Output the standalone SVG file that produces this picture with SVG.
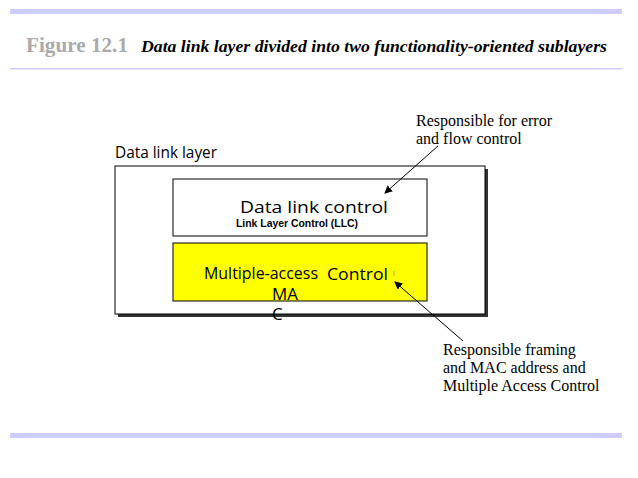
<svg xmlns="http://www.w3.org/2000/svg" width="638" height="478" viewBox="0 0 638 478">
<style>
.s{font-family:"Open Sans","DejaVu Sans",sans-serif;fill:#000}
.t{font-family:"Liberation Serif",serif;font-size:16px;fill:#000}
.c{stroke:#000;stroke-width:1;fill:none}
</style>
<defs><marker id="a" markerWidth="8" markerHeight="8" refX="7" refY="4" orient="auto" markerUnits="userSpaceOnUse"><path d="M0,0 L8,4 L0,8 z" fill="#000"/></marker></defs>
<rect width="638" height="478" fill="#fff"/>
<rect x="10" y="9" width="612" height="5" fill="#ccccff"/>
<rect x="10" y="68" width="612" height="1.5" fill="#ccccff"/>
<rect x="10" y="433" width="612" height="5" fill="#ccccff"/>
<text x="26" y="52" font-family="Liberation Serif,serif" font-size="20" font-weight="bold" fill="#aaaaaa" textLength="102" lengthAdjust="spacingAndGlyphs">Figure 12.1</text>
<text x="141" y="52" font-family="Liberation Serif,serif" font-size="17" font-weight="bold" font-style="italic" fill="#000" textLength="466" lengthAdjust="spacingAndGlyphs">Data link layer divided into two functionality-oriented sublayers</text>
<g id="outer">
<rect x="118" y="169" width="370" height="148" fill="#333"/>
<rect x="115" y="166" width="370" height="148" fill="#fff" stroke="#000"/>
<text x="115" y="158" class="s" font-size="16" textLength="102" lengthAdjust="spacingAndGlyphs">Data link layer</text>
</g>
<g id="llc">
<rect x="173" y="179" width="254" height="57" fill="#fff" stroke="#000"/>
<text x="240" y="213" class="s" font-size="16" textLength="148" lengthAdjust="spacingAndGlyphs">Data link control</text>
<text x="236" y="227" font-family="Liberation Sans,sans-serif" font-size="10" font-weight="bold" textLength="122" lengthAdjust="spacingAndGlyphs">Link Layer Control (LLC)</text>
</g>
<g id="mac">
<rect x="173" y="243" width="254" height="58" fill="#ffff00" stroke="#000"/>
<text x="204" y="279" class="s" font-size="16" textLength="114" lengthAdjust="spacingAndGlyphs">Multiple-access</text>
<text x="327" y="280" class="s" font-size="17" textLength="61" lengthAdjust="spacingAndGlyphs">Control</text>
<line x1="394" y1="271" x2="394" y2="276" stroke="#888" stroke-width="0.7"/>
<text x="272" y="300" class="s" font-size="16" textLength="26" lengthAdjust="spacingAndGlyphs">MA</text>
<text x="272" y="320" class="s" font-size="17">C</text>
</g>
<g id="notes">
<text x="416" y="126" class="t">Responsible for error</text>
<text x="416" y="144" class="t">and flow control</text>
<text x="443" y="355" class="t">Responsible framing</text>
<text x="443" y="373" class="t">and MAC address and</text>
<text x="443" y="391" class="t">Multiple Access Control</text>
</g>
<g id="connectors">
<line class="c" x1="438" y1="146" x2="385" y2="193" marker-end="url(#a)"/>
<line class="c" x1="463" y1="341" x2="395" y2="282" marker-end="url(#a)"/>
</g>
</svg>
